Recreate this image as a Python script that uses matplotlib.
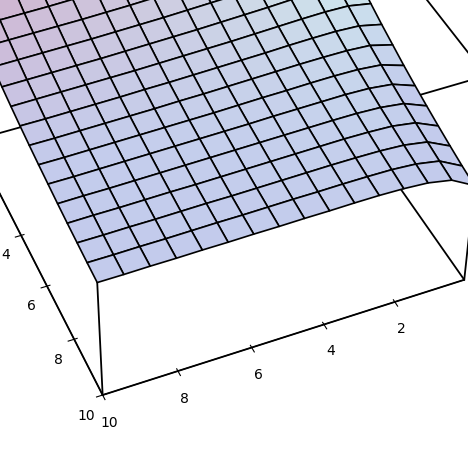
import numpy as np
import matplotlib.pyplot as plt
from matplotlib.colors import to_rgb
from matplotlib.transforms import Bbox

x = np.linspace(0, 10, 16)
y = np.linspace(0, 10, 16)
# z[j][i]: row j -> y, column i -> x (read off approximately)
z = np.array([
    [4.2, 3.75, 3.5, 3.35, 3.25, 3.18, 3.12, 3.08, 3.05, 3.02, 3.0, 2.98, 2.97, 2.96, 2.95, 2.95],
    [3.6, 3.4, 3.25, 3.14, 3.06, 3.0, 2.95, 2.91, 2.88, 2.85, 2.83, 2.81, 2.8, 2.79, 2.78, 2.77],
    [3.2, 3.12, 3.02, 2.94, 2.88, 2.83, 2.79, 2.75, 2.72, 2.69, 2.67, 2.65, 2.63, 2.62, 2.61, 2.6],
    [2.9, 2.88, 2.82, 2.76, 2.71, 2.67, 2.63, 2.6, 2.57, 2.54, 2.52, 2.5, 2.49, 2.48, 2.47, 2.46],
    [2.65, 2.68, 2.65, 2.6, 2.56, 2.52, 2.49, 2.46, 2.43, 2.41, 2.39, 2.37, 2.36, 2.35, 2.34, 2.33],
    [2.42, 2.5, 2.49, 2.46, 2.42, 2.39, 2.36, 2.33, 2.31, 2.29, 2.27, 2.25, 2.24, 2.23, 2.22, 2.21],
    [2.22, 2.34, 2.35, 2.33, 2.3, 2.27, 2.24, 2.22, 2.2, 2.18, 2.16, 2.15, 2.14, 2.13, 2.12, 2.11],
    [2.04, 2.19, 2.22, 2.21, 2.19, 2.16, 2.14, 2.12, 2.1, 2.08, 2.07, 2.05, 2.04, 2.03, 2.02, 2.02],
    [1.88, 2.06, 2.1, 2.1, 2.09, 2.07, 2.05, 2.03, 2.01, 2.0, 1.98, 1.97, 1.96, 1.95, 1.94, 1.94],
    [1.72, 1.94, 2.0, 2.01, 2.0, 1.98, 1.97, 1.95, 1.93, 1.92, 1.91, 1.9, 1.89, 1.88, 1.87, 1.87],
    [1.58, 1.83, 1.91, 1.93, 1.92, 1.91, 1.9, 1.88, 1.87, 1.86, 1.85, 1.84, 1.83, 1.82, 1.81, 1.81],
    [1.45, 1.73, 1.82, 1.85, 1.85, 1.84, 1.83, 1.82, 1.81, 1.8, 1.79, 1.78, 1.77, 1.76, 1.76, 1.75],
    [1.33, 1.64, 1.75, 1.78, 1.79, 1.78, 1.77, 1.76, 1.75, 1.74, 1.73, 1.73, 1.72, 1.71, 1.71, 1.7],
    [1.22, 1.56, 1.68, 1.72, 1.73, 1.73, 1.72, 1.71, 1.7, 1.69, 1.69, 1.68, 1.67, 1.67, 1.66, 1.66],
    [1.12, 1.49, 1.62, 1.67, 1.68, 1.68, 1.67, 1.67, 1.66, 1.65, 1.65, 1.64, 1.63, 1.63, 1.62, 1.62],
    [1.04, 1.43, 1.57, 1.62, 1.64, 1.64, 1.63, 1.63, 1.62, 1.62, 1.61, 1.61, 1.6, 1.6, 1.59, 1.59],
])
x_ticks = [2, 4, 6, 8, 10]
y_ticks = [2, 4, 6, 8, 10]

X, Y = np.meshgrid(x, y)

# blend of Mathematica-like pastel lighting colours
base = np.array(to_rgb('#c3cbec'))
pink = np.array(to_rgb('#d6a2bc'))
lav = np.array(to_rgb('#cdc3e2'))
cyan = np.array(to_rgb('#d2f0ee'))
hz = np.clip((z - 1.9) / 1.3, 0, 1)
w_pink = np.clip((X / 10) * hz * 1.1, 0, 1)
w_cyan = np.clip((1 - X / 10) * np.clip((z - 1.6) / 1.0, 0, 1) * (1 - np.clip((z - 3.0) / 1.0, 0, 1)), 0, 1) * 0.8
w_lav = np.clip((X / 10) * np.clip((z - 1.8) / 1.0, 0, 1), 0, 1) * 0.6
colors = base[None, None, :] * (1 - w_cyan - w_lav)[..., None] + cyan * w_cyan[..., None] + lav * w_lav[..., None]
colors = colors * (1 - w_pink * 0.7)[..., None] + pink * (w_pink * 0.7)[..., None]
spike = np.clip((z - 3.3) / 0.9, 0, 1)
colors = colors * (1 - spike)[..., None] + pink * spike[..., None]
colors = np.clip(colors, 0, 1)

fig = plt.figure(figsize=(7.02, 7.02), dpi=100)
ax = fig.add_axes([0, 0, 1, 1], projection='3d')
ax.plot_surface(X, Y, z, facecolors=colors, edgecolor='black', linewidth=1.2, shade=False)

# box edges
lo, hi = -2.0, 4.3
for (xa, ya) in [(10, 10), (0, 10), (10, 0), (0, 0)]:
    ax.plot([xa, xa], [ya, ya], [lo, hi], color='black', lw=1.3)
for zz in [lo, hi]:
    ax.plot([0, 10, 10, 0, 0], [0, 0, 10, 10, 0], [zz] * 5, color='black', lw=1.3)

ax.set_xlim(0, 10)
ax.set_ylim(0, 10)
ax.set_zlim(lo, hi)
ax.set_xticks(x_ticks)
ax.set_yticks(y_ticks)
ax.set_zticks([])
ax.tick_params(labelsize=10)
for a in (ax.xaxis, ax.yaxis, ax.zaxis):
    a.pane.fill = False
    a.pane.set_edgecolor('none')
    a.line.set_color('black')
ax.grid(False)
ax.set_box_aspect((1, 1, 0.7), zoom=0.85)
ax.set_proj_type('persp', focal_length=0.6)
ax.view_init(elev=42, azim=67)
fig.savefig('out.png', dpi=100, bbox_inches=Bbox([[1.50, 0.03], [6.18, 4.71]]))
